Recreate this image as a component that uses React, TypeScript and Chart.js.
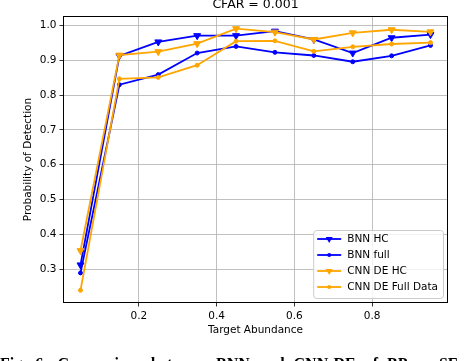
import React, { useEffect, useRef } from 'react';
import { Chart, registerables } from 'chart.js';

Chart.register(...registerables);

const TITLE = 'CFAR = 0.001';
const X_LABEL = 'Target Abundance';
const Y_LABEL = 'Probability of Detection';
const CAPTION = 'Fig. 6: Comparison between BNN and CNN-DE of BP vs SF';

const ABUNDANCE = [0.05, 0.15, 0.25, 0.35, 0.45, 0.55, 0.65, 0.75, 0.85, 0.95];
const SERIES_LABELS = ['BNN HC', 'BNN full', 'CNN DE HC', 'CNN DE Full Data'];
const BNN_HC = [0.312, 0.913, 0.953, 0.971, 0.971, 0.984, 0.960, 0.921, 0.965, 0.974];
const BNN_FULL = [0.289, 0.830, 0.859, 0.921, 0.940, 0.923, 0.914, 0.896, 0.913, 0.943];
const CNN_HC = [0.353, 0.915, 0.925, 0.948, 0.991, 0.981, 0.960, 0.979, 0.988, 0.982];
const CNN_FULL = [0.239, 0.847, 0.851, 0.886, 0.955, 0.956, 0.926, 0.939, 0.947, 0.951];

const X_TICKS = [0.2, 0.4, 0.6, 0.8];
const Y_TICKS = [0.3, 0.4, 0.5, 0.6, 0.7, 0.8, 0.9, 1.0];
const X_RANGE = [0.005, 0.995];
const Y_RANGE = [0.2025, 1.0275];

const BLUE = '#0000ff';
const ORANGE = '#ffa500';
const FONT = '"DejaVu Sans"';

const toPoints = (ys: number[]) => ys.map((y, i) => ({ x: ABUNDANCE[i], y }));

const mplPlugin = {
  id: 'mplDecor',
  afterDatasetsDraw(chart: any) {
    const { ctx, chartArea: a } = chart;
    ctx.save();
    // axes frame (spines)
    ctx.strokeStyle = '#000';
    ctx.lineWidth = 1;
    ctx.strokeRect(a.left + 0.5, a.top + 0.5, a.right - a.left - 1, a.bottom - a.top - 1);

    // title
    ctx.fillStyle = '#000';
    ctx.font = `12.5px ${FONT}`;
    ctx.textAlign = 'center';
    ctx.textBaseline = 'alphabetic';
    ctx.fillText(TITLE, (a.left + a.right) / 2, 8);

    // legend
    const ds = chart.data.datasets;
    ctx.font = `10.5px ${FONT}`;
    const textW = Math.max(...ds.map((d: any) => ctx.measureText(d.label).width));
    const rowH = 16;
    const w = 4 + 24 + 6 + textW + 5;
    const h = rowH * ds.length + 4;
    const x0 = a.right - 5 - w;
    const y0 = a.bottom - 5 - h;
    ctx.beginPath();
    if (ctx.roundRect) ctx.roundRect(x0 + 0.5, y0 + 0.5, w, h, 3);
    else ctx.rect(x0 + 0.5, y0 + 0.5, w, h);
    ctx.fillStyle = 'rgba(255,255,255,0.8)';
    ctx.fill();
    ctx.strokeStyle = '#cccccc';
    ctx.lineWidth = 1;
    ctx.stroke();

    ds.forEach((d: any, i: number) => {
      const cy = y0 + 9 + i * rowH;
      ctx.strokeStyle = d.borderColor;
      ctx.lineWidth = d.borderWidth;
      ctx.beginPath();
      ctx.moveTo(x0 + 4, cy);
      ctx.lineTo(x0 + 28, cy);
      ctx.stroke();
      const cx = x0 + 16;
      const r = d.pointRadius;
      ctx.fillStyle = d.borderColor;
      ctx.beginPath();
      if (d.pointStyle === 'triangle') {
        const s = Math.sin(Math.PI / 3) * r;
        ctx.moveTo(cx, cy + r);
        ctx.lineTo(cx - s, cy - r / 2);
        ctx.lineTo(cx + s, cy - r / 2);
        ctx.closePath();
      } else {
        ctx.arc(cx, cy, r, 0, Math.PI * 2);
      }
      ctx.fill();
      ctx.fillStyle = '#000';
      ctx.textAlign = 'left';
      ctx.textBaseline = 'middle';
      ctx.fillText(d.label, x0 + 34, cy + 0.5);
    });
    ctx.restore();
  },
};

function makeDataset(label: string, ys: number[], color: string, tri: boolean, order: number) {
  return {
    label,
    data: toPoints(ys),
    borderColor: color,
    backgroundColor: color,
    borderWidth: 1.8,
    pointStyle: tri ? 'triangle' : 'circle',
    pointRotation: tri ? 180 : 0,
    pointRadius: tri ? 4 : 2,
    pointBackgroundColor: color,
    pointBorderColor: color,
    pointBorderWidth: 1,
    tension: 0,
    order,
  };
}

export default function App() {
  const ref = useRef<HTMLCanvasElement | null>(null);

  useEffect(() => {
    if (!ref.current) return;
    const tickFont = { family: FONT, size: 10.5 };
    const chart = new Chart(ref.current, {
      type: 'line',
      data: {
        datasets: [
          makeDataset(SERIES_LABELS[0], BNN_HC, BLUE, true, 4),
          makeDataset(SERIES_LABELS[1], BNN_FULL, BLUE, false, 3),
          makeDataset(SERIES_LABELS[2], CNN_HC, ORANGE, true, 2),
          makeDataset(SERIES_LABELS[3], CNN_FULL, ORANGE, false, 1),
        ],
      },
      options: {
        responsive: false,
        animation: false,
        devicePixelRatio: 1,
        layout: { padding: { left: 0, right: 26, top: 16, bottom: 0 } },
        plugins: {
          legend: { display: false },
          title: { display: false },
          tooltip: { enabled: false },
        },
        scales: {
          x: {
            type: 'linear',
            min: X_RANGE[0],
            max: X_RANGE[1],
            afterBuildTicks: (s: any) => {
              s.ticks = X_TICKS.map((v) => ({ value: v }));
            },
            afterFit: (s: any) => {
              s.height = 58;
            },
            grid: { color: '#b0b0b0', lineWidth: 0.8, tickColor: '#000', tickLength: 3.5, drawTicks: true },
            border: { display: false },
            ticks: {
              color: '#000',
              font: tickFont,
              padding: 3,
              maxRotation: 0,
              autoSkip: false,
              callback: (v: any) => Number(v).toFixed(1),
            },
            title: {
              display: true,
              text: X_LABEL,
              color: '#000',
              font: { family: FONT, size: 10.5 },
              padding: { top: 0, bottom: 24 },
            },
          },
          y: {
            type: 'linear',
            min: Y_RANGE[0],
            max: Y_RANGE[1],
            afterBuildTicks: (s: any) => {
              s.ticks = Y_TICKS.map((v) => ({ value: v }));
            },
            afterFit: (s: any) => {
              s.width = 63;
            },
            grid: { color: '#b0b0b0', lineWidth: 0.8, tickColor: '#000', tickLength: 3.5, drawTicks: true },
            border: { display: false },
            ticks: {
              color: '#000',
              font: tickFont,
              padding: 3,
              autoSkip: false,
              callback: (v: any) => Number(v).toFixed(1),
            },
            title: {
              display: true,
              text: Y_LABEL,
              color: '#000',
              font: { family: FONT, size: 10.5 },
              padding: { top: 22, bottom: 0 },
            },
          },
        },
      },
      plugins: [mplPlugin],
    } as any);
    return () => chart.destroy();
  }, []);

  return (
    <div
      style={{
        position: 'absolute',
        left: 0,
        top: 0,
        width: 474,
        height: 361,
        overflow: 'hidden',
        background: '#fff',
      }}
    >
      <canvas ref={ref} width={474} height={361} style={{ display: 'block' }} />
      <div
        style={{
          position: 'absolute',
          left: 0,
          top: 356,
          font: 'bold 16px "Liberation Serif"',
          lineHeight: '16px',
          whiteSpace: 'nowrap',
          wordSpacing: '5px',
          color: '#000',
        }}
      >
        {CAPTION}
      </div>
    </div>
  );
}
